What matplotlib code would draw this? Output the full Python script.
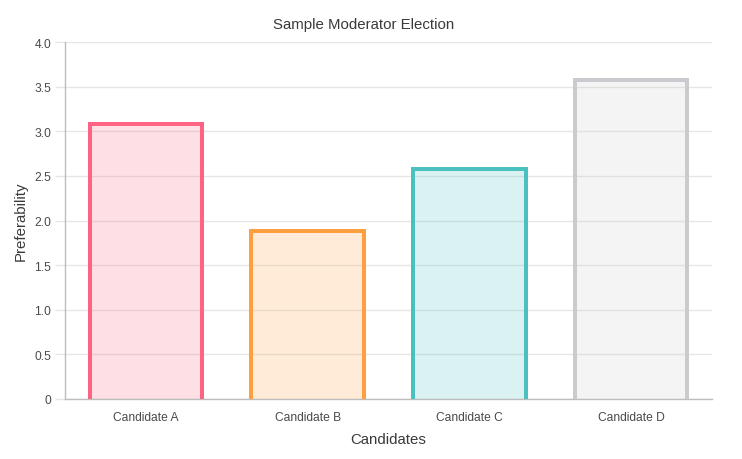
import matplotlib
matplotlib.use("Agg")
import matplotlib.pyplot as plt
import numpy as np

categories = ["Candidate A", "Candidate B", "Candidate C", "Candidate D"]
values = [3.1, 1.9, 2.6, 3.6]
border_colors = [(255, 99, 132), (255, 159, 64), (75, 192, 192), (201, 203, 207)]
yticks = [0, 0.5, 1.0, 1.5, 2.0, 2.5, 3.0, 3.5, 4.0]
ytick_labels = ["0", "0.5", "1.0", "1.5", "2.0", "2.5", "3.0", "3.5", "4.0"]
title = "Sample Moderator Election"
xlabel = "Candidates"
ylabel = "Preferability"

plt.rcParams['font.family'] = ['Liberation Sans', 'DejaVu Sans']

W, H = 742, 460
fig = plt.figure(figsize=(W / 100, H / 100), dpi=100)
L, R, T, B = 65, 712, 43, 400
ax = fig.add_axes([L / W, (H - B) / H, (R - L) / W, (B - T) / H])

x = np.arange(len(categories))
bw = 0.72
ax.set_xlim(-0.5, len(categories) - 0.5)
ax.set_ylim(0, 4.0)

# pixel -> data conversion for inset borders
px_x = (len(categories)) / (R - L)
px_y = 4.0 / (B - T)
lw_px = 4
ins_x = lw_px / 2 * px_x
ins_y = lw_px / 2 * px_y

for xi, v, c in zip(x, values, border_colors):
    col = tuple(ch / 255 for ch in c)
    ax.bar(xi, v, width=bw, color=col + (0.2,), edgecolor='none', zorder=2)
    xl = xi - bw / 2 + ins_x
    xr = xi + bw / 2 - ins_x
    yt = v - ins_y
    ax.plot([xl, xl, xr, xr], [0, yt, yt, 0], color=col, linewidth=lw_px * 0.72,
            solid_joinstyle='miter', solid_capstyle='butt', zorder=3)

ax.set_yticks(yticks)
ax.set_yticklabels(ytick_labels)
ax.set_xticks(x)
ax.set_xticklabels(categories)
ax.grid(axis='y', color='#e6e6e6', linewidth=1, zorder=0)
ax.set_axisbelow(True)
ax.tick_params(axis='y', length=7, width=1, color='#e6e6e6', pad=3,
               labelsize=8.64, labelcolor='#4a4a4a')
ax.tick_params(axis='x', length=0, pad=9, labelsize=8.64, labelcolor='#4a4a4a')
for s in ['top', 'right']:
    ax.spines[s].set_visible(False)
for s in ['left', 'bottom']:
    ax.spines[s].set_color('#bdbdbd')
    ax.spines[s].set_linewidth(1)

fig.text(364 / W, 1 - 25 / H, title, ha='center', va='center',
         fontsize=10.8, color='#3a3a3a')
fig.text((L + R) / 2 / W, 1 - 440 / H, xlabel, ha='center', va='center',
         fontsize=10.8, color='#3a3a3a')
fig.text(21 / W, 1 - (T + B) / 2 / H, ylabel, ha='center', va='center',
         rotation=90, fontsize=10.8, color='#3a3a3a')

fig.savefig("out.png", dpi=100)
